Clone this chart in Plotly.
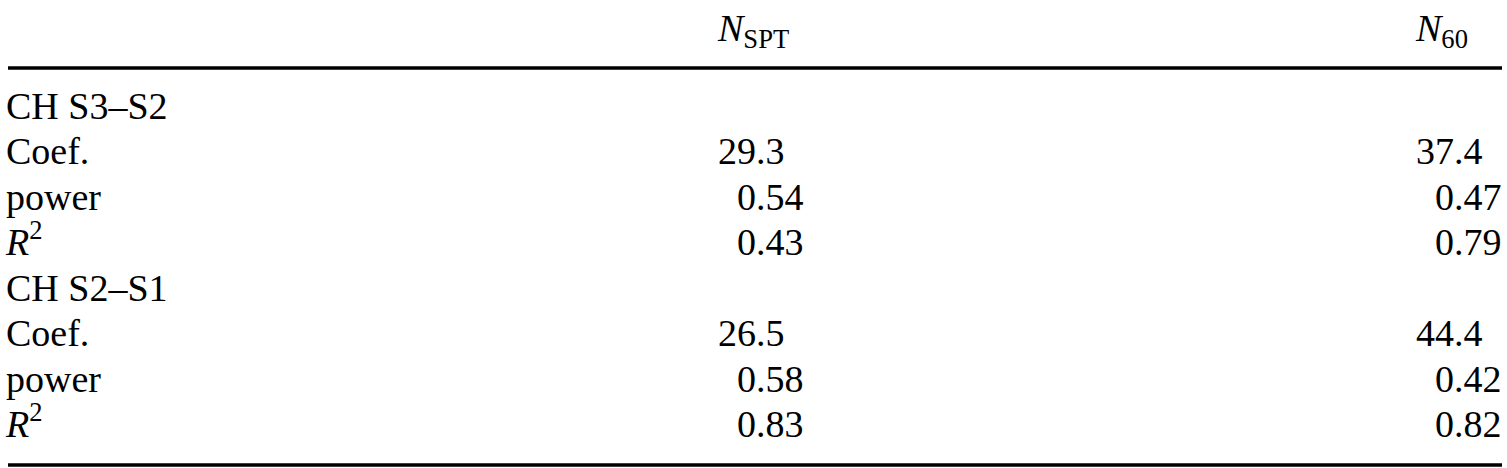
import plotly.graph_objects as go

# table content
row_labels = ["CH S3–S2", "Coef.", "power", "<i>R</i><sup>2</sup>",
              "CH S2–S1", "Coef.", "power", "<i>R</i><sup>2</sup>"]
col_headers = ["<i>N</i><sub>SPT</sub>", "<i>N</i><sub>60</sub>"]
n_spt = [None, 29.3, 0.54, 0.43, None, 26.5, 0.58, 0.83]
n_60 = [None, 37.4, 0.47, 0.79, None, 44.4, 0.42, 0.82]

FONT = dict(family="Liberation Serif, Times New Roman, serif", size=38, color="black")
W, H = 1507, 468
row_px = 45.5       # spacing between body rows
first_px = 109      # centre of first body row
y0 = -first_px / row_px
y1 = y0 + H / row_px
header_y = y0 + 31 / row_px
label_x, col_x = 6, [718, 1416]


def fmt(v):
    # pad numbers below 10 with a figure space so decimals line up
    if v is None:
        return ""
    s = f"{v:.2f}" if v < 1 else f"{v:.1f}"
    return ("\u2007" + s) if v < 10 else s


rows = list(range(len(row_labels)))
fig = go.Figure()
fig.add_trace(go.Scatter(x=[label_x] * len(rows), y=rows, text=row_labels,
                         mode="text", textposition="middle right", textfont=FONT))
for cx, vals in zip(col_x, [n_spt, n_60]):
    fig.add_trace(go.Scatter(x=[cx] * len(rows), y=rows, text=[fmt(v) for v in vals],
                             mode="text", textposition="middle right", textfont=FONT))
fig.add_trace(go.Scatter(x=col_x, y=[header_y] * 2, text=col_headers,
                         mode="text", textposition="middle right", textfont=FONT))

# horizontal rules above and below the body
for py in [68, 465]:
    yy = y0 + py / row_px
    fig.add_shape(type="line", x0=8, x1=1502, y0=yy, y1=yy,
                  line=dict(color="black", width=3.5))

fig.update_layout(
    width=W, height=H,
    margin=dict(l=0, r=0, t=0, b=0),
    plot_bgcolor="white", paper_bgcolor="white",
    showlegend=False,
    xaxis=dict(range=[0, W], visible=False, fixedrange=True),
    yaxis=dict(range=[y1, y0], visible=False, fixedrange=True),
)
fig.write_html("out.html", config={"displayModeBar": False},
               post_script="document.body.style.margin='0';")
